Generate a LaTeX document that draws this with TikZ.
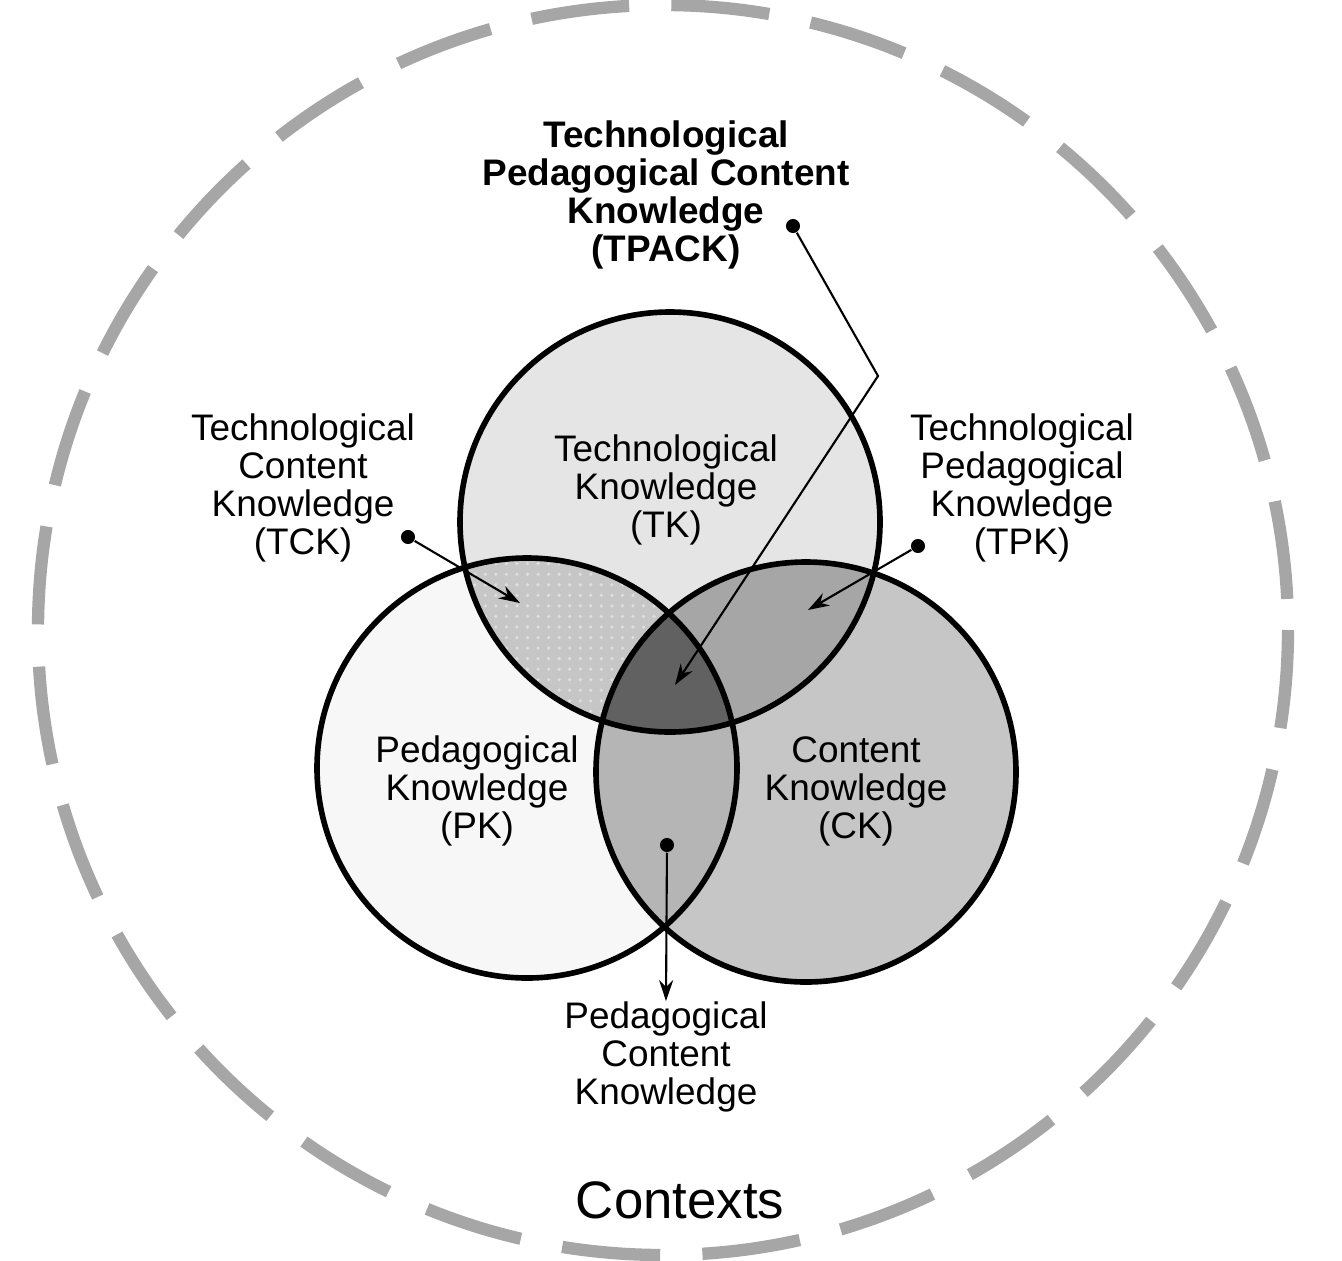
\documentclass[tikz,border=0pt]{standalone}
\usepackage{fontspec}
\setmainfont{Liberation Sans}
\usetikzlibrary{arrows.meta,patterns}
\begin{document}
\begin{tikzpicture}[x=0.01cm,y=-0.01cm,
  lbl/.style={align=center,font=\fontsize{10.5}{10.8}\selectfont,inner sep=0pt},
  ring/.style={line width=1.6pt},
  ptr/.style={line width=0.6pt,-{Stealth[length=6pt,width=4pt]}},
  dotc/.style={circle,fill=black,inner sep=0pt,minimum size=4pt}]
\useasboundingbox (0,0) rectangle (1342,1260);
\draw[line width=3.5pt,gray!70,dash pattern=on 28pt off 12pt] (663,630) circle (625);
\coordinate (T) at (670,522); \coordinate (P) at (527,768); \coordinate (C) at (806,772);
\def\R{210}
\fill[gray!20] (T) circle (\R);
\fill[gray!6] (P) circle (\R);
\fill[gray!45] (C) circle (\R);
\begin{scope}\clip (T) circle (\R); \fill[gray!45] (P) circle (\R);
 \fill[pattern=dots,pattern color=gray!25] (P) circle (\R); \end{scope}
\begin{scope}\clip (T) circle (\R); \fill[gray!70] (C) circle (\R); \end{scope}
\begin{scope}\clip (P) circle (\R); \fill[gray!58] (C) circle (\R); \end{scope}
\begin{scope}\clip (P) circle (\R); \clip (C) circle (\R); \fill[gray!100!white,fill=black!62] (T) circle (\R); \end{scope}
\draw[ring] (T) circle (\R); \draw[ring] (P) circle (\R); \draw[ring] (C) circle (\R);
\node[lbl,font=\fontsize{10.5}{10.8}\selectfont\bfseries] (tpack) at (666,195) {Technological\\Pedagogical Content\\Knowledge\\(TPACK)};
\node[lbl] (tk) at (666,490) {Technological\\Knowledge\\(TK)};
\node[lbl] (tck) at (303,488) {Technological\\Content\\Knowledge\\(TCK)};
\node[lbl] (tpk) at (1022,488) {Technological\\Pedagogical\\Knowledge\\(TPK)};
\node[lbl] (pk) at (477,791) {Pedagogical\\Knowledge\\(PK)};
\node[lbl] (ck) at (856,791) {Content\\Knowledge\\(CK)};
\node[lbl] (pck) at (666,1057) {Pedagogical\\Content\\Knowledge};
\node[lbl,font=\fontsize{15}{16}\selectfont] (ctx) at (680,1200) {Contexts};
\node[dotc] (d1) at (793,226) {}; \coordinate (bend) at (878,376); \coordinate (e1) at (675,685);
\draw[ptr] (d1) -- (bend) -- (e1);
\node[dotc] (d2) at (408,537) {}; \coordinate (e2) at (520,603); \draw[ptr] (d2) -- (e2);
\node[dotc] (d3) at (918,546) {}; \coordinate (e3) at (808,610); \draw[ptr] (d3) -- (e3);
\node[dotc] (d4) at (667,845) {}; \draw[ptr] (d4) -- (pck.north);
\end{tikzpicture}
\end{document}
